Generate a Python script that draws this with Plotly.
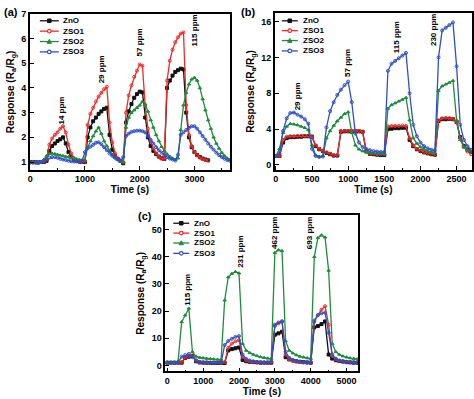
import plotly.graph_objects as go

W, H = 474, 399
FONT = "Liberation Sans"

series_names = ["ZnO", "ZSO1", "ZSO2", "ZSO3"]
series_colors = ["#111111", "#ee2a2a", "#1e8c3c", "#2f4fc6"]
series_symbols = ["square", "circle-open", "triangle-up", "circle-open"]

# ---------------- panel (a) ----------------
time_a = list(range(0, 3651, 50))
a_zno = [1.0, 1.0, 1.0, 0.98, 1.0, 1.0, 1.05, 1.45, 1.65, 1.75, 1.85, 1.92, 2.0, 1.75, 1.4, 1.2, 1.1, 1.05, 1.02, 1.0,
         1.0, 2.0, 2.4, 2.65, 2.8, 2.95, 3.05, 3.15, 3.2, 2.1, 1.5, 1.25, 1.12, 1.05, 0.95, 2.6, 3.05, 3.35, 3.6, 3.75,
         3.85, 3.82, 2.8, 2.0, 1.65, 1.45, 1.32, 1.22, 1.15, 1.12, 4.0, 4.3, 4.5, 4.65, 4.72, 4.78, 4.75, 3.0, 2.0, 1.6,
         1.4, 1.28, 1.2, 1.14, 1.1, 1.07]
a_zso1 = [1.0, 1.0, 1.0, 1.0, 1.0, 1.02, 1.1, 1.7, 1.95, 2.1, 2.2, 2.35, 2.45, 2.2, 1.7, 1.35, 1.15, 1.05, 1.0, 1.0,
          1.02, 2.5, 2.95, 3.2, 3.45, 3.65, 3.8, 3.95, 4.05, 2.6, 1.8, 1.35, 1.15, 1.05, 1.0, 3.0, 3.7, 4.1, 4.45, 4.7,
          4.95, 4.9, 3.3, 2.35, 1.85, 1.55, 1.35, 1.22, 1.15, 1.12, 4.3, 5.1, 5.55, 5.85, 6.05, 6.2, 6.25, 3.3, 2.1, 1.65,
          1.4, 1.27, 1.18, 1.12, 1.08, 1.06]
a_zso2 = [1.0, 1.0, 1.0, 1.0, 1.02, 1.1, 1.25, 1.33, 1.35, 1.33, 1.3, 1.27, 1.25, 1.22, 1.2, 1.17, 1.15, 1.12, 1.1, 1.08,
          1.08, 1.6, 1.85, 2.05, 2.25, 2.4, 2.15, 1.85, 1.65, 1.45, 1.3, 1.18, 1.1, 1.02, 1.0, 2.4, 2.8, 3.0, 3.1, 3.2,
          3.3, 3.45, 3.35, 3.05, 2.7, 2.4, 2.1, 1.85, 1.62, 1.45, 1.32, 1.22, 1.15, 1.1, 1.15, 2.3, 3.3, 3.8, 4.15, 4.35,
          4.42, 4.3, 4.0, 3.55, 3.1, 2.7, 2.35, 2.0, 1.75, 1.55, 1.38, 1.25, 1.15, 1.1]
a_zso3 = [0.97, 0.97, 0.96, 0.97, 1.0, 1.05, 1.12, 1.18, 1.2, 1.2, 1.17, 1.13, 1.1, 1.08, 1.05, 1.03, 1.02, 1.02, 1.02, 1.05,
          1.4, 1.55, 1.62, 1.7, 1.78, 1.8, 1.72, 1.6, 1.48, 1.35, 1.25, 1.17, 1.1, 1.05, 1.2, 2.05, 2.15, 2.22, 2.25, 2.27,
          2.27, 2.25, 2.2, 2.05, 1.9, 1.75, 1.6, 1.48, 1.38, 1.28, 1.2, 1.14, 1.1, 1.06, 1.3, 2.1, 2.2, 2.3, 2.38, 2.45,
          2.45, 2.35, 2.2, 2.05, 1.9, 1.75, 1.62, 1.5, 1.38, 1.28, 1.2, 1.13, 1.08, 1.05]
a_conc_labels = ["14 ppm", "29 ppm", "57 ppm", "115 ppm"]
a_label_x = [570, 1310, 1990, 3000]
a_label_y = [3.1, 4.75, 5.85, 6.35]

# ---------------- panel (b) ----------------
time_b = list(range(0, 2701, 50))
b_zno = [1.0, 1.0, 2.5, 3.0, 3.1, 3.1, 3.15, 3.15, 3.2, 3.2, 3.15, 2.1, 1.75, 1.55, 1.35, 1.2, 1.05, 1.05, 3.7, 3.75,
         3.75, 3.75, 3.75, 3.75, 3.7, 1.5, 1.25, 1.2, 1.15, 1.1, 1.1, 4.0, 4.05, 4.1, 4.1, 4.15, 4.15, 2.8, 2.1, 1.75,
         1.55, 1.4, 1.3, 1.2, 1.15, 4.9, 5.1, 5.1, 5.15, 5.1, 4.8, 3.1, 2.1, 1.7, 1.45]
b_zso1 = [1.0, 1.0, 2.8, 3.15, 3.2, 3.2, 3.25, 3.25, 3.25, 3.25, 3.2, 2.2, 1.8, 1.6, 1.4, 1.25, 1.1, 1.1, 3.8, 3.8,
          3.8, 3.8, 3.8, 3.8, 3.7, 1.6, 1.3, 1.25, 1.2, 1.2, 1.2, 4.3, 4.35, 4.35, 4.35, 4.4, 4.35, 3.0, 2.2, 1.8,
          1.6, 1.45, 1.35, 1.25, 1.2, 5.0, 5.2, 5.25, 5.2, 5.15, 4.8, 3.0, 2.0, 1.5, 1.2]
b_zso2 = [1.0, 1.8, 3.6, 4.3, 4.6, 4.55, 4.45, 4.3, 4.15, 3.9, 2.2, 1.1, 0.9, 1.0, 3.0, 3.8, 4.4, 4.9, 5.3, 5.7,
          5.9, 3.6, 2.2, 1.75, 1.55, 1.45, 1.38, 1.32, 1.28, 1.25, 1.25, 6.3, 6.7, 6.9, 7.1, 7.3, 7.5, 5.0, 3.0, 2.4,
          2.0, 1.75, 1.55, 1.45, 1.35, 8.3, 8.8, 9.0, 9.2, 9.4, 5.0, 2.8, 2.0, 1.7, 1.55]
b_zso3 = [1.0, 1.3, 3.8, 5.2, 5.8, 5.85, 5.6, 5.4, 5.1, 4.6, 1.8, 1.0, 0.9, 0.95, 4.2, 6.0, 7.0, 7.8, 8.4, 8.9,
          9.3, 7.0, 3.5, 2.5, 2.0, 1.8, 1.65, 1.55, 1.5, 1.45, 1.45, 10.5, 11.3, 11.6, 11.9, 12.2, 12.5, 8.0, 4.5, 3.2,
          2.5, 2.1, 1.85, 1.7, 1.6, 12.0, 15.0, 15.3, 15.6, 15.9, 11.0, 4.5, 2.8, 2.1, 1.7]
b_conc_labels = ["29 ppm", "57 ppm", "115 ppm", "230 ppm"]
b_label_x = [300, 1000, 1670, 2180]
b_label_y = [7.6, 11.4, 14.2, 15.1]

# ---------------- panel (c) ----------------
time_c = list(range(0, 5301, 100))
c_zno = [1.0, 1.0, 1.0, 1.0, 1.0, 2.8, 3.2, 3.5, 1.5, 1.1, 1.0, 1.0, 0.9, 0.9, 0.9, 0.9, 0.9, 5.5, 6.0, 6.3,
         6.6, 2.0, 1.5, 1.3, 1.2, 1.1, 1.0, 1.0, 1.0, 1.0, 11.3, 11.8, 12.4, 3.0, 2.2, 1.8, 1.5, 1.3, 1.2, 1.1,
         1.0, 14.0, 14.5, 15.2, 16.2, 4.0, 2.5, 1.9, 1.6, 1.4, 1.2, 1.1, 1.0, 1.0]
c_zso1 = [1.0, 1.0, 1.0, 1.0, 1.2, 3.0, 3.5, 3.6, 1.8, 1.2, 1.0, 1.0, 1.0, 1.0, 1.0, 1.0, 1.2, 6.5, 8.0, 8.9,
          9.3, 3.0, 1.8, 1.4, 1.2, 1.1, 1.0, 1.0, 1.0, 1.2, 14.5, 15.5, 16.0, 4.0, 2.3, 1.7, 1.4, 1.2, 1.1, 1.0,
          1.0, 16.0, 18.5, 20.5, 21.8, 15.0, 3.5, 2.2, 1.7, 1.4, 1.3, 1.2, 1.1, 1.1]
c_zso2 = [1.0, 1.0, 1.0, 1.5, 16.0, 18.5, 21.0, 5.0, 3.3, 2.9, 2.7, 2.5, 2.4, 2.3, 2.2, 2.1, 24.0, 32.5, 33.8, 34.5,
          34.0, 8.0, 5.5, 4.6, 4.0, 3.5, 3.1, 2.8, 2.6, 2.5, 41.5, 42.5, 42.2, 9.0, 5.5, 4.5, 3.8, 3.3, 3.0, 2.7,
          2.5, 40.0, 47.0, 48.0, 47.2, 35.0, 8.0, 5.0, 4.0, 3.4, 3.0, 2.7, 2.5, 2.3]
c_zso3 = [1.0, 1.0, 1.0, 1.2, 3.2, 3.8, 4.2, 3.0, 1.8, 1.3, 1.1, 1.0, 1.0, 1.0, 1.0, 1.0, 7.5, 9.0, 9.8, 10.5,
          10.8, 4.0, 2.4, 1.8, 1.5, 1.3, 1.2, 1.1, 1.1, 1.5, 15.0, 15.8, 16.3, 5.0, 2.8, 2.0, 1.6, 1.4, 1.2, 1.1,
          1.0, 16.5, 18.5, 19.2, 19.5, 12.0, 4.0, 2.5, 1.8, 1.5, 1.3, 1.2, 1.1, 1.1]
c_conc_labels = ["115 ppm", "231 ppm", "462 ppm", "693 ppm"]
c_label_x = [560, 2040, 2970, 3950]
c_label_y = [28.0, 42.0, 48.7, 48.7]

x_title = "Time (s)"
y_title = "Response (R<sub>a</sub>/R<sub>g</sub>)"

panels = [
    dict(name="(a)", xa="x", ya="y", time=time_a, data=[a_zno, a_zso1, a_zso2, a_zso3],
         labels=a_conc_labels, lx=a_label_x, ly=a_label_y,
         xdom=[28, 229], ydom=[9, 167], xr=[-5, 3650], yr=[0.68, 7.0], xd=1000, yd=1,
         leg=dict(x0=38, x1=57, xt=59, rows=[16, 26.5, 37, 47.5]), tag=(0, 7)),
    dict(name="(b)", xa="x2", ya="y2", time=time_b, data=[b_zno, b_zso1, b_zso2, b_zso3],
         labels=b_conc_labels, lx=b_label_x, ly=b_label_y,
         xdom=[274, 472], ydom=[8, 167], xr=[-14, 2713], yr=[-0.55, 16.96], xd=500, yd=4,
         leg=dict(x0=281, x1=297, xt=300, rows=[16, 26, 36, 46.5]), tag=(238, 7)),
    dict(name="(c)", xa="x3", ya="y3", time=time_c, data=[c_zno, c_zso1, c_zso2, c_zso3],
         labels=c_conc_labels, lx=c_label_x, ly=c_label_y,
         xdom=[164, 358], ydom=[213, 371], xr=[-56, 5333], yr=[-2.2, 55.3], xd=1000, yd=10,
         leg=dict(x0=172, x1=188, xt=191, rows=[221, 231, 241, 251.5]), tag=(135, 214)),
]

fig = go.Figure()
lay = {}
for i, p in enumerate(panels):
    for name, color, sym, vals in zip(series_names, series_colors, series_symbols, p["data"]):
        fig.add_trace(go.Scatter(
            x=p["time"][:len(vals)], y=vals, mode="lines+markers", name=name,
            xaxis=p["xa"], yaxis=p["ya"], showlegend=False,
            line=dict(color=color, width=1.3),
            marker=dict(symbol=sym, size=3, color=color, line=dict(color=color, width=1)),
        ))
    sfx = "" if i == 0 else str(i + 1)
    common = dict(showline=True, linecolor="black", linewidth=1.5, mirror=True,
                  ticks="inside", ticklen=4, tickwidth=1.2, tickcolor="black",
                  showgrid=False, zeroline=False,
                  tickfont=dict(family=FONT, size=9, color="black", weight="bold"))
    lay["xaxis" + sfx] = dict(common, domain=[p["xdom"][0] / W, p["xdom"][1] / W],
                             range=p["xr"], dtick=p["xd"], tick0=0, anchor="y" + sfx,
                             minor=dict(ticks="inside", ticklen=2, tickcolor="black", dtick=p["xd"] / 2),
                             title=dict(text=x_title, standoff=1,
                                        font=dict(family=FONT, size=10, color="black", weight="bold")))
    lay["yaxis" + sfx] = dict(common, domain=[1 - p["ydom"][1] / H, 1 - p["ydom"][0] / H],
                             range=p["yr"], dtick=p["yd"], tick0=0, anchor="x" + sfx,
                             title=dict(text=y_title, standoff=5,
                                        font=dict(family=FONT, size=10, color="black", weight="bold")))
    # concentration labels
    for txt, lx, ly in zip(p["labels"], p["lx"], p["ly"]):
        fig.add_annotation(x=lx, y=ly, xref=p["xa"], yref=p["ya"], text=txt, showarrow=False,
                           textangle=-90, font=dict(family=FONT, size=8, color="black", weight="bold"))
    # panel tag
    fig.add_annotation(x=p["tag"][0] / W, y=1 - p["tag"][1] / H, xref="paper", yref="paper",
                       text=p["name"], showarrow=False, xanchor="left", yanchor="middle",
                       font=dict(family=FONT, size=11, color="black", weight="bold"))
    # legend
    lg = p["leg"]
    for name, color, sym, ry in zip(series_names, series_colors, series_symbols, lg["rows"]):
        yp = 1 - ry / H
        fig.add_shape(type="line", xref="paper", yref="paper", x0=lg["x0"] / W, x1=lg["x1"] / W,
                      y0=yp, y1=yp, line=dict(color=color, width=1.3))
        cx = (lg["x0"] + lg["x1"]) / 2
        r = 1.8
        if sym == "square":
            fig.add_shape(type="rect", xref="paper", yref="paper", x0=(cx - r) / W, x1=(cx + r) / W,
                          y0=1 - (ry + r) / H, y1=1 - (ry - r) / H, line=dict(color=color, width=1), fillcolor=color)
        elif sym == "triangle-up":
            path = "M {:.5f},{:.5f} L {:.5f},{:.5f} L {:.5f},{:.5f} Z".format(
                (cx - 2.2) / W, 1 - (ry + 1.8) / H, (cx + 2.2) / W, 1 - (ry + 1.8) / H, cx / W, 1 - (ry - 2.2) / H)
            fig.add_shape(type="path", xref="paper", yref="paper", path=path,
                          line=dict(color=color, width=1), fillcolor=color)
        else:
            fig.add_shape(type="circle", xref="paper", yref="paper", x0=(cx - r) / W, x1=(cx + r) / W,
                          y0=1 - (ry + r) / H, y1=1 - (ry - r) / H, line=dict(color=color, width=1.2),
                          fillcolor="white")
        fig.add_annotation(x=lg["xt"] / W, y=yp, xref="paper", yref="paper", text=name, showarrow=False,
                           xanchor="left", yanchor="middle",
                           font=dict(family=FONT, size=8, color="black", weight="bold"))

fig.update_layout(width=W, height=H, autosize=False, margin=dict(l=0, r=0, t=0, b=0),
                  plot_bgcolor="white", paper_bgcolor="white", **lay)

fig.write_html("out.html", config={"displayModeBar": False},
               post_script="document.body.style.margin='0';document.body.style.overflow='hidden';")
